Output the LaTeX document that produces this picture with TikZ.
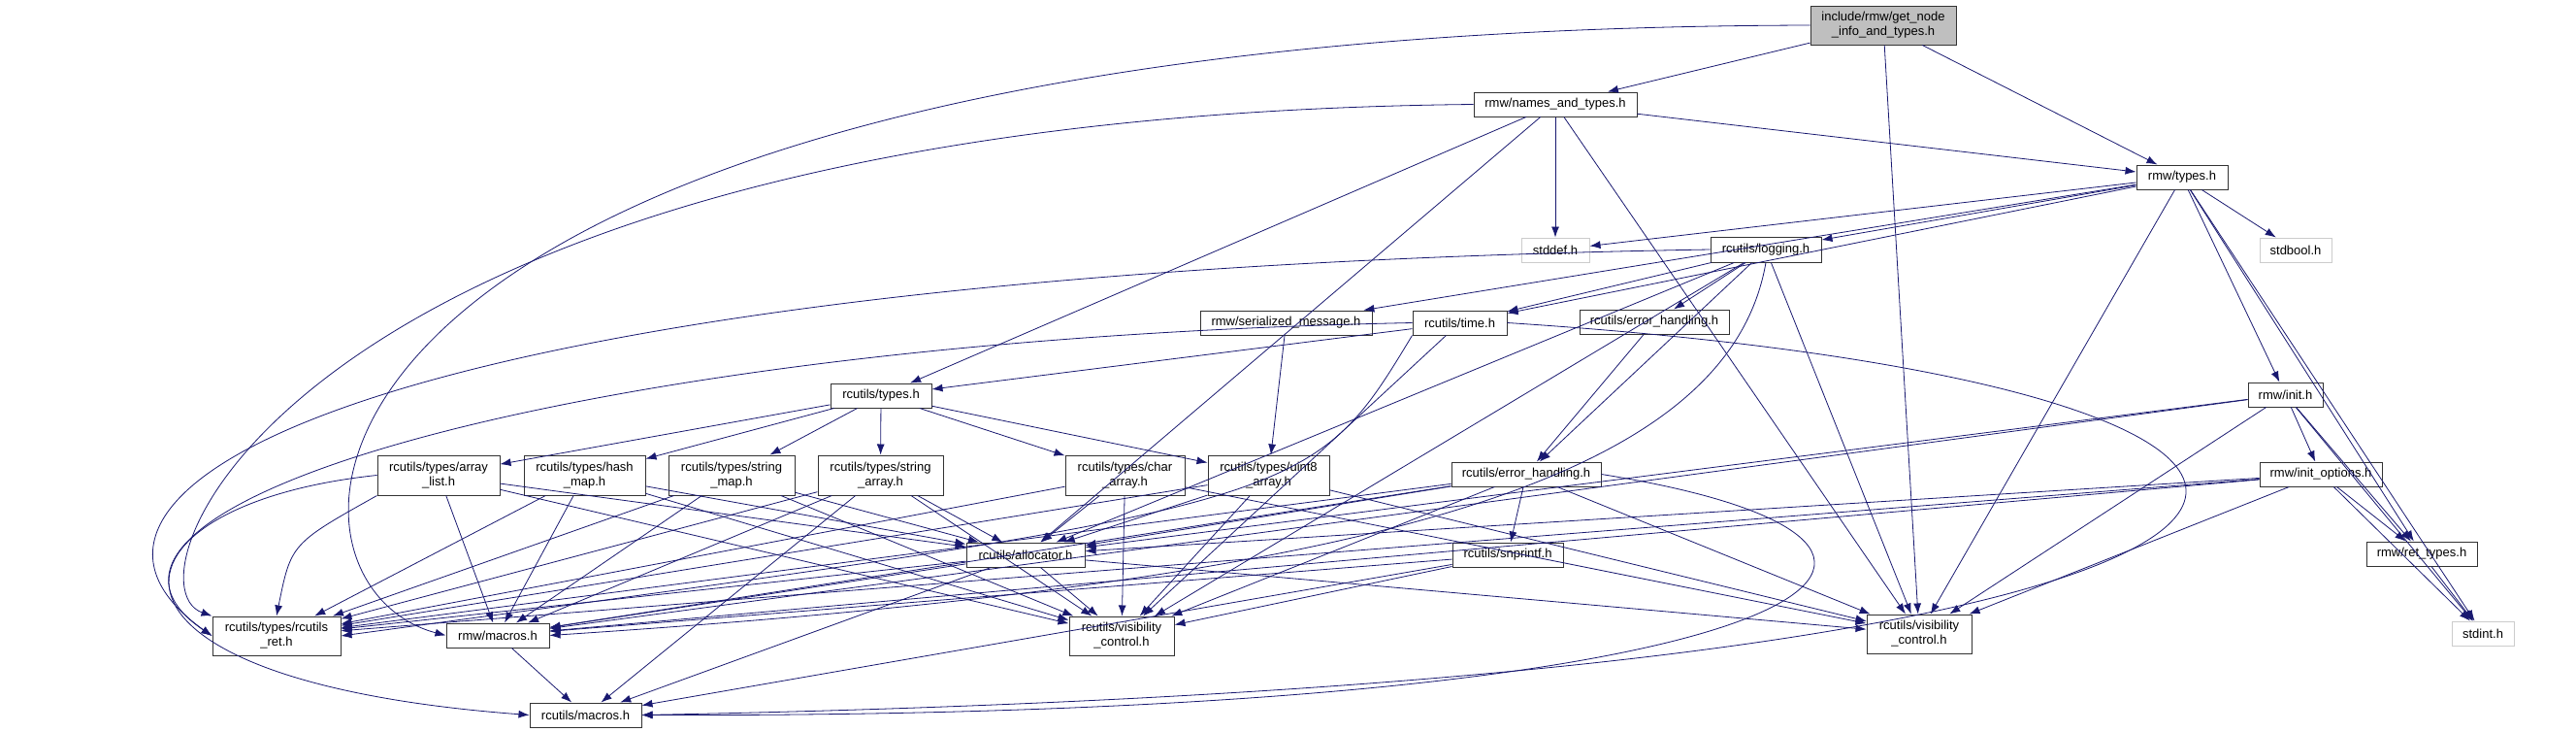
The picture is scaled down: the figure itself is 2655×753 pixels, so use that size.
\documentclass[tikz,border=0pt]{standalone}
\usepackage{fontspec}
\setmainfont{Liberation Sans}
\usetikzlibrary{arrows.meta}
\definecolor{edge}{HTML}{191970}
\newcommand\nbox[7][box]{%
  \node[#1,minimum width={(#5-#3)*1pt},minimum height={(#6-#4)*1pt}] (#2) at ({(#3+#5)/2},{-(#4+#6)/2}) {#7};}
\begin{document}
\begin{tikzpicture}[x=1pt,y=1pt,
  box/.style={draw=black!80,line width=1pt,fill=white,inner sep=0pt,align=center,font=\fontsize{13}{15}\selectfont},
  sys/.style={box,draw=black!20},
  top/.style={box,fill=black!25},
  e/.style={draw=edge,line width=0.8pt,-{Latex[length=11pt,width=8pt]}}]
\useasboundingbox (0,0) rectangle (2655,-753);
\nbox[top]{top}{1866}{6}{2016}{46}{include/rmw/get\_node\\\_info\_and\_types.h}
\nbox{names}{1519}{95}{1687}{120}{rmw/names\_and\_types.h}
\nbox{rmwtypes}{2202}{170}{2296}{195}{rmw/types.h}
\nbox[sys]{stddef}{1568}{245}{1638}{270}{stddef.h}
\nbox[sys]{stdbool}{2329}{245}{2403}{270}{stdbool.h}
\nbox{logging}{1763}{244}{1877}{270}{rcutils/logging.h}
\nbox{serial}{1237}{320}{1414}{345}{rmw/serialized\_message.h}
\nbox{time}{1456}{320}{1553}{345}{rcutils/time.h}
\nbox{errup}{1628}{319}{1782}{344}{rcutils/error\_handling.h}
\nbox{rtypes}{856}{395}{960}{420}{rcutils/types.h}
\nbox{init}{2317}{394}{2394}{419}{rmw/init.h}
\nbox{arrlist}{389}{469}{515}{510}{rcutils/types/array\\\_list.h}
\nbox{hashmap}{540}{469}{665}{510}{rcutils/types/hash\\\_map.h}
\nbox{strmap}{689}{469}{819}{510}{rcutils/types/string\\\_map.h}
\nbox{strarr}{843}{469}{972}{510}{rcutils/types/string\\\_array.h}
\nbox{chararr}{1098}{469}{1221}{510}{rcutils/types/char\\\_array.h}
\nbox{uint8}{1245}{469}{1370}{510}{rcutils/types/uint8\\\_array.h}
\nbox{errlow}{1496}{476}{1650}{501}{rcutils/error\_handling.h}
\nbox{initopt}{2329}{476}{2455}{501}{rmw/init\_options.h}
\nbox{alloc}{996}{559}{1118}{584}{rcutils/allocator.h}
\nbox{snprintf}{1497}{559}{1611}{584}{rcutils/snprintf.h}
\nbox{rettypes}{2439}{558}{2553}{583}{rmw/ret\_types.h}
\nbox{ret}{219}{635}{351}{675}{rcutils/types/rcutils\\\_ret.h}
\nbox{rmwmacros}{460}{642}{566}{667}{rmw/macros.h}
\nbox{visL}{1102}{635}{1210}{675}{rcutils/visibility\\\_control.h}
\nbox{visR}{1924}{633}{2032}{673}{rcutils/visibility\\\_control.h}
\nbox[sys]{stdint}{2527}{640}{2591}{665}{stdint.h}
\nbox{cmacros}{546}{724}{661}{749}{rcutils/macros.h}
\begin{scope}[on background layer/.style={}]
\foreach \a/\b in {top/names,top/rmwtypes,top/visR,
 names/rmwtypes,names/stddef,names/rtypes,names/alloc,names/visR,
 rmwtypes/stddef,rmwtypes/stdbool,rmwtypes/logging,rmwtypes/serial,rmwtypes/time,rmwtypes/init,rmwtypes/rettypes,rmwtypes/visR,rmwtypes/stdint,
 logging/errup,logging/time,logging/errlow,logging/alloc,logging/visL,logging/visR,
 errup/errlow,serial/uint8,time/rtypes,time/visL,
 rtypes/arrlist,rtypes/hashmap,rtypes/strmap,rtypes/strarr,rtypes/chararr,rtypes/uint8,
 arrlist/alloc,arrlist/rmwmacros,arrlist/visL,
 hashmap/alloc,hashmap/ret,hashmap/rmwmacros,hashmap/visL,
 strmap/alloc,strmap/ret,strmap/rmwmacros,strmap/visL,
 strarr/alloc,strarr/ret,strarr/rmwmacros,strarr/visL,strarr/cmacros,
 chararr/alloc,chararr/ret,chararr/visL,chararr/visR,
 uint8/alloc,uint8/ret,uint8/visL,uint8/visR,
 errlow/alloc,errlow/snprintf,errlow/ret,errlow/rmwmacros,errlow/visL,errlow/visR,
 snprintf/rmwmacros,snprintf/visL,snprintf/cmacros,
 alloc/ret,alloc/rmwmacros,alloc/visL,alloc/cmacros,alloc/visR,
 init/alloc,init/initopt,init/rettypes,init/visR,init/stdint,init/rmwmacros,
 initopt/alloc,initopt/rettypes,initopt/visR,initopt/stdint,initopt/rmwmacros,initopt/ret,
 rettypes/stdint,rmwmacros/cmacros}
 {\draw[e] (\a) -- (\b);}
\end{scope}
% long routed edges
\draw[e] (top.west) .. controls (250,-30) and (250,-600) .. (rmwmacros.west);
\draw[e] (names.west) .. controls (300,-120) and (120,-600) .. (ret.north west);
\draw[e] (logging.west) .. controls (400,-280) and (0,-500) .. (ret.west);
\draw[e] (time.west) .. controls (600,-350) and (20,-520) .. (ret.west);
\draw[e] (arrlist.west) .. controls (100,-520) and (60,-700) .. (cmacros.west);
\draw[e] (time.east) .. controls (2600,-400) and (2600,-700) .. (cmacros.east);
\draw[e] (errlow.east) .. controls (2100,-560) and (1900,-740) .. (cmacros.east);
\draw[e] (logging.south) .. controls (1780,-500) and (1400,-600) .. (rmwmacros.east);
\draw[e] (arrlist.south west) .. controls (300,-560) .. (ret.north);
\draw[e] (time.south west) .. controls (1350,-520) .. (ret.east);
\end{tikzpicture}
\end{document}
